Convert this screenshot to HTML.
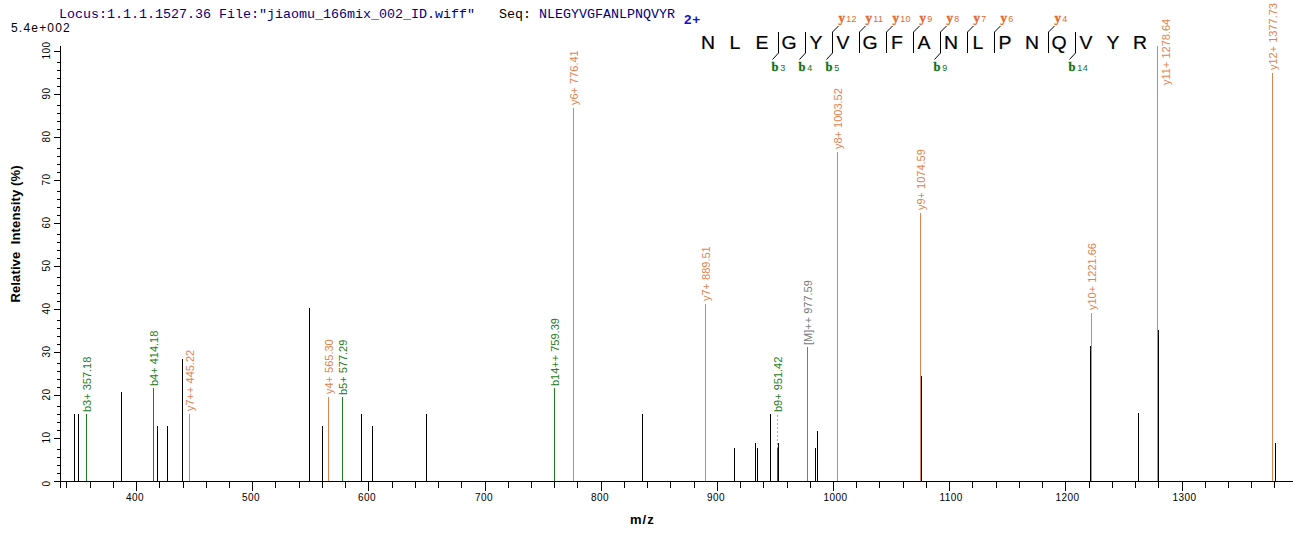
<!DOCTYPE html><html><head><meta charset="utf-8"><style>html,body{margin:0;padding:0;background:#fff;width:1293px;height:536px;overflow:hidden}svg{display:block}</style></head><body>
<svg width="1293" height="536" viewBox="0 0 1293 536">
<rect width="1293" height="536" fill="#fff"/>
<g shape-rendering="crispEdges" stroke="#000" stroke-width="1" fill="none">
<path d="M60.5 46V488M54 481.5H1293"/>
<path d="M54 481.5H60M57 473.5H60M57 465.5H60M57 457.5H60M57 449.5H60M54 438.5H60M57 430.5H60M57 422.5H60M57 414.5H60M57 406.5H60M54 395.5H60M57 387.5H60M57 379.5H60M57 371.5H60M57 363.5H60M54 352.5H60M57 344.5H60M57 336.5H60M57 328.5H60M57 320.5H60M54 309.5H60M57 301.5H60M57 293.5H60M57 285.5H60M57 277.5H60M54 266.5H60M57 258.5H60M57 250.5H60M57 242.5H60M57 234.5H60M54 223.5H60M57 215.5H60M57 207.5H60M57 199.5H60M57 191.5H60M54 180.5H60M57 172.5H60M57 164.5H60M57 156.5H60M57 148.5H60M54 137.5H60M57 129.5H60M57 121.5H60M57 113.5H60M57 105.5H60M54 94.5H60M57 86.5H60M57 78.5H60M57 70.5H60M57 62.5H60M54 51.5H60"/>
<path d="M66.5 482V488M90.5 482V488M113.5 482V488M136.5 482V491M159.5 482V488M183.5 482V488M206.5 482V488M229.5 482V488M252.5 482V491M275.5 482V488M299.5 482V488M322.5 482V488M345.5 482V488M368.5 482V491M392.5 482V488M415.5 482V488M438.5 482V488M461.5 482V488M485.5 482V491M508.5 482V488M531.5 482V488M554.5 482V488M577.5 482V488M601.5 482V491M624.5 482V488M647.5 482V488M670.5 482V488M694.5 482V488M717.5 482V491M740.5 482V488M763.5 482V488M787.5 482V488M810.5 482V488M833.5 482V491M856.5 482V488M879.5 482V488M903.5 482V488M926.5 482V488M949.5 482V491M972.5 482V488M996.5 482V488M1019.5 482V488M1042.5 482V488M1065.5 482V491M1089.5 482V488M1112.5 482V488M1135.5 482V488M1158.5 482V488M1182.5 482V491M1205.5 482V488M1228.5 482V488M1251.5 482V488M1274.5 482V488"/>
</g>
<g shape-rendering="crispEdges" stroke-width="1" fill="none">
<path stroke="#1e7b1e" d="M86.5 414V481"/>
<path stroke="#1e7b1e" d="M153.5 388V481"/>
<path stroke="#de8450" d="M189.5 414V481"/>
<path stroke="#de8450" d="M328.5 397V481"/>
<path stroke="#1e7b1e" d="M342.5 397V481"/>
<path stroke="#1e7b1e" d="M554.5 388V481"/>
<path stroke="#de8450" d="M573.5 108V481"/>
<path stroke="#de8450" d="M705.5 304V481"/>
<path stroke="#1e7b1e" d="M777.5 448V481"/>
<path stroke="#a8a8a8" stroke-dasharray="2,2" d="M777.5 415V448"/>
<path stroke="#7a7a7a" d="M807.5 347V481"/>
<path stroke="#de8450" d="M837.5 152V481"/>
<path stroke="#de8450" d="M920.5 213V481"/>
<path stroke="#de8450" d="M1091.5 313V481"/>
<path stroke="#de8450" d="M1157.5 46V481"/>
<path stroke="#de8450" d="M1272.5 73V481"/>
<path stroke="#000" d="M74.5 414V481M78.5 414V481M121.5 392V481M157.5 426V481M167.5 426V481M182.5 359V481M309.5 308V481M322.5 426V481M361.5 414V481M372.5 426V481M426.5 414V481M642.5 414V481M734.5 448V481M755.5 443V481M757.5 448V481M770.5 414V481M778.5 443V481M815.5 448V481M817.5 431V481M921.5 376V481M1090.5 346V481M1138.5 413V481M1158.5 330V481M1275.5 443V481"/>
</g>
<g font-family="Liberation Sans" font-size="10" fill="#000" letter-spacing="0.5">
<text x="126.0" y="501">400</text>
<text x="242.0" y="501">500</text>
<text x="358.0" y="501">600</text>
<text x="475.0" y="501">700</text>
<text x="591.0" y="501">800</text>
<text x="707.0" y="501">900</text>
<text x="823.4" y="501">1000</text>
<text x="939.4" y="501">1100</text>
<text x="1055.4" y="501">1200</text>
<text x="1172.4" y="501">1300</text>
</g>
<g font-family="Liberation Sans" font-size="10" fill="#000" text-anchor="middle" letter-spacing="0.5">
<text transform="translate(50 483.5) rotate(-90)">0</text>
<text transform="translate(50 437.5) rotate(-90)">10</text>
<text transform="translate(50 394.5) rotate(-90)">20</text>
<text transform="translate(50 351.5) rotate(-90)">30</text>
<text transform="translate(50 308.5) rotate(-90)">40</text>
<text transform="translate(50 265.5) rotate(-90)">50</text>
<text transform="translate(50 222.5) rotate(-90)">60</text>
<text transform="translate(50 179.5) rotate(-90)">70</text>
<text transform="translate(50 136.5) rotate(-90)">80</text>
<text transform="translate(50 93.5) rotate(-90)">90</text>
<text transform="translate(50 50.5) rotate(-90)">100</text>
</g>
<g font-family="Liberation Sans" font-size="11">
<text fill="#1e7b1e" transform="translate(91 412) rotate(-90)">b3+ 357.18</text>
<text fill="#1e7b1e" transform="translate(158 386) rotate(-90)">b4+ 414.18</text>
<text fill="#de8450" transform="translate(194 411) rotate(-90)">y7++ 445.22</text>
<text fill="#de8450" transform="translate(333 394) rotate(-90)">y4+ 565.30</text>
<text fill="#1e7b1e" transform="translate(347 395) rotate(-90)">b5+ 577.29</text>
<text fill="#1e7b1e" transform="translate(559 386) rotate(-90)">b14++ 759.39</text>
<text fill="#de8450" transform="translate(578 105) rotate(-90)">y6+ 776.41</text>
<text fill="#de8450" transform="translate(710 301) rotate(-90)">y7+ 889.51</text>
<text fill="#1e7b1e" transform="translate(782 412) rotate(-90)">b9+ 951.42</text>
<text fill="#7a7a7a" transform="translate(812 345) rotate(-90)">[M]++ 977.59</text>
<text fill="#de8450" transform="translate(842 149) rotate(-90)">y8+ 1003.52</text>
<text fill="#de8450" transform="translate(925 210) rotate(-90)">y9+ 1074.59</text>
<text fill="#de8450" transform="translate(1096 310) rotate(-90)">y10+ 1221.66</text>
<text fill="#de8450" transform="translate(1170 85) rotate(-90)">y11+ 1278.64</text>
<text fill="#de8450" transform="translate(1277 70) rotate(-90)">y12+ 1377.73</text>
</g>
<text font-family="Liberation Sans" font-size="13" font-weight="bold" transform="translate(20 302.5) rotate(-90)" letter-spacing="0.12" xml:space="preserve">Relative  Intensity (%)</text>
<text font-family="Liberation Sans" font-size="13" font-weight="bold" x="630" y="524" letter-spacing="1">m/z</text>
<text font-family="Liberation Sans" font-size="12" x="11" y="32" letter-spacing="1.2">5.4e+002</text>
<text font-family="Liberation Mono" font-size="13.33" fill="#000080" x="59" y="18" xml:space="preserve">Locus:1.1.1.1527.36 File:"jiaomu_166mix_002_ID.wiff"   <tspan fill="#000">Seq: </tspan>NLEGYVGFANLPNQVYR</text>
<text font-family="Liberation Sans" font-size="13.5" font-weight="bold" fill="#1010d0" x="684" y="24" letter-spacing="0.8">2+</text>
<g font-family="Liberation Sans" font-size="18" fill="#000" stroke="#000" stroke-width="0.2" text-anchor="middle">
<text transform="translate(708 49) scale(1.08 1)">N</text>
<text transform="translate(735 49) scale(1.08 1)">L</text>
<text transform="translate(762 49) scale(1.08 1)">E</text>
<text transform="translate(789 49) scale(1.08 1)">G</text>
<text transform="translate(816 49) scale(1.08 1)">Y</text>
<text transform="translate(843 49) scale(1.08 1)">V</text>
<text transform="translate(870 49) scale(1.08 1)">G</text>
<text transform="translate(897 49) scale(1.08 1)">F</text>
<text transform="translate(924 49) scale(1.08 1)">A</text>
<text transform="translate(951 49) scale(1.08 1)">N</text>
<text transform="translate(978 49) scale(1.08 1)">L</text>
<text transform="translate(1005 49) scale(1.08 1)">P</text>
<text transform="translate(1032 49) scale(1.08 1)">N</text>
<text transform="translate(1059 49) scale(1.08 1)">Q</text>
<text transform="translate(1086 49) scale(1.08 1)">V</text>
<text transform="translate(1113 49) scale(1.08 1)">Y</text>
<text transform="translate(1140 49) scale(1.08 1)">R</text>
</g>
<g stroke="#000" stroke-width="1" fill="none">
<path d="M778.5 32V53L772.5 59.5"/>
<path d="M805.5 32V53L799.5 59.5"/>
<path d="M838.5 26L832.5 32V53L826.5 59.5"/>
<path d="M865.5 26L859.5 32V53"/>
<path d="M892.5 26L886.5 32V53"/>
<path d="M919.5 26L913.5 32V53"/>
<path d="M946.5 26L940.5 32V53L934.5 59.5"/>
<path d="M973.5 26L967.5 32V53"/>
<path d="M1000.5 26L994.5 32V53"/>
<path d="M1054.5 26L1048.5 32V53"/>
<path d="M1075.5 32V53L1069.5 59.5"/>
</g>
<text fill="#157015" x="771.5" y="70.5"><tspan font-family="Liberation Serif" font-weight="bold" font-size="12.5" stroke="#157015" stroke-width="0.3">b</tspan><tspan font-family="Liberation Sans" font-size="9" letter-spacing="0.4" dx="1.8">3</tspan></text>
<text fill="#157015" x="798.5" y="70.5"><tspan font-family="Liberation Serif" font-weight="bold" font-size="12.5" stroke="#157015" stroke-width="0.3">b</tspan><tspan font-family="Liberation Sans" font-size="9" letter-spacing="0.4" dx="1.8">4</tspan></text>
<text fill="#157015" x="825.5" y="70.5"><tspan font-family="Liberation Serif" font-weight="bold" font-size="12.5" stroke="#157015" stroke-width="0.3">b</tspan><tspan font-family="Liberation Sans" font-size="9" letter-spacing="0.4" dx="1.8">5</tspan></text>
<text fill="#157015" x="933.5" y="70.5"><tspan font-family="Liberation Serif" font-weight="bold" font-size="12.5" stroke="#157015" stroke-width="0.3">b</tspan><tspan font-family="Liberation Sans" font-size="9" letter-spacing="0.4" dx="1.8">9</tspan></text>
<text fill="#157015" x="1068.5" y="70.5"><tspan font-family="Liberation Serif" font-weight="bold" font-size="12.5" stroke="#157015" stroke-width="0.3">b</tspan><tspan font-family="Liberation Sans" font-size="9" letter-spacing="0.4" dx="1.8">14</tspan></text>
<text fill="#e26a32" x="838.5" y="21.5"><tspan font-family="Liberation Serif" font-weight="bold" font-size="13" stroke="#e26a32" stroke-width="0.35">y</tspan><tspan font-family="Liberation Sans" font-size="9" letter-spacing="0.4" dx="1.2">12</tspan></text>
<text fill="#e26a32" x="865.5" y="21.5"><tspan font-family="Liberation Serif" font-weight="bold" font-size="13" stroke="#e26a32" stroke-width="0.35">y</tspan><tspan font-family="Liberation Sans" font-size="9" letter-spacing="0.4" dx="1.2">11</tspan></text>
<text fill="#e26a32" x="892.5" y="21.5"><tspan font-family="Liberation Serif" font-weight="bold" font-size="13" stroke="#e26a32" stroke-width="0.35">y</tspan><tspan font-family="Liberation Sans" font-size="9" letter-spacing="0.4" dx="1.2">10</tspan></text>
<text fill="#e26a32" x="919.5" y="21.5"><tspan font-family="Liberation Serif" font-weight="bold" font-size="13" stroke="#e26a32" stroke-width="0.35">y</tspan><tspan font-family="Liberation Sans" font-size="9" letter-spacing="0.4" dx="1.2">9</tspan></text>
<text fill="#e26a32" x="946.5" y="21.5"><tspan font-family="Liberation Serif" font-weight="bold" font-size="13" stroke="#e26a32" stroke-width="0.35">y</tspan><tspan font-family="Liberation Sans" font-size="9" letter-spacing="0.4" dx="1.2">8</tspan></text>
<text fill="#e26a32" x="973.5" y="21.5"><tspan font-family="Liberation Serif" font-weight="bold" font-size="13" stroke="#e26a32" stroke-width="0.35">y</tspan><tspan font-family="Liberation Sans" font-size="9" letter-spacing="0.4" dx="1.2">7</tspan></text>
<text fill="#e26a32" x="1000.5" y="21.5"><tspan font-family="Liberation Serif" font-weight="bold" font-size="13" stroke="#e26a32" stroke-width="0.35">y</tspan><tspan font-family="Liberation Sans" font-size="9" letter-spacing="0.4" dx="1.2">6</tspan></text>
<text fill="#e26a32" x="1054.5" y="21.5"><tspan font-family="Liberation Serif" font-weight="bold" font-size="13" stroke="#e26a32" stroke-width="0.35">y</tspan><tspan font-family="Liberation Sans" font-size="9" letter-spacing="0.4" dx="1.2">4</tspan></text>
</svg></body></html>
